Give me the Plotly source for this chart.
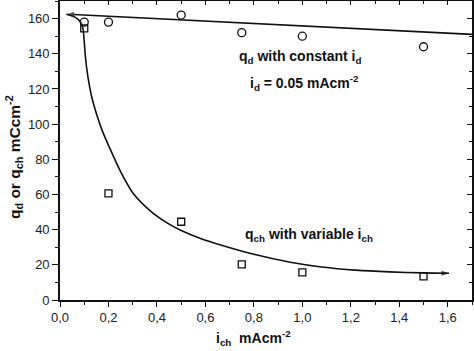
import plotly.graph_objects as go

# measured data
i_ch = [0.1, 0.2, 0.5, 0.75, 1.0, 1.5]
q_d = [158, 158, 162, 152, 150, 144]
q_ch = [154.4, 60.6, 44.5, 20.3, 15.7, 13.4]

# fitted lines
qd_fit_x = [1.7, 0.026]
qd_fit_y = [151.0, 162.5]
qch_fit_x = [0.026, 0.06, 0.085, 0.095, 0.100, 0.105, 0.115, 0.13, 0.15, 0.175,
             0.2, 0.25, 0.3, 0.37, 0.44, 0.5, 0.58, 0.67, 0.8, 0.95, 1.08,
             1.22, 1.36, 1.5, 1.605]
qch_fit_y = [162.5, 161, 158, 154, 147, 138, 127, 116, 106, 96,
             88, 73, 61, 51, 44, 39.5, 35, 31, 26, 21.5, 18.8,
             17, 16, 15.4, 15.2]

x_ticks = [0, 0.2, 0.4, 0.6, 0.8, 1.0, 1.2, 1.4, 1.6]
y_ticks = [0, 20, 40, 60, 80, 100, 120, 140, 160]

FONT = "Liberation Sans, Arial, sans-serif"
BLACK = "#111111"

fig = go.Figure()

fig.add_trace(go.Scatter(
    x=qd_fit_x, y=qd_fit_y, mode="lines+markers",
    line=dict(color=BLACK, width=1.6),
    marker=dict(symbol=["circle", "arrow"], size=[0, 8], color=BLACK,
                angleref="previous", line=dict(width=0)),
    showlegend=False, hoverinfo="skip"))

n = len(qch_fit_x)
fig.add_trace(go.Scatter(
    x=qch_fit_x, y=qch_fit_y, mode="lines+markers",
    line=dict(color=BLACK, width=1.6, shape="spline", smoothing=0.8),
    marker=dict(symbol=["circle"] * (n - 1) + ["arrow"], size=[0] * (n - 1) + [8],
                color=BLACK, angleref="previous", line=dict(width=0)),
    showlegend=False, hoverinfo="skip"))

fig.add_trace(go.Scatter(
    x=i_ch, y=q_d, mode="markers",
    marker=dict(symbol="circle-open", size=8, color=BLACK, line=dict(width=1.3)),
    showlegend=False))

fig.add_trace(go.Scatter(
    x=i_ch, y=q_ch, mode="markers",
    marker=dict(symbol="square-open", size=7, color=BLACK, line=dict(width=1.3)),
    showlegend=False))

# dummy trace for mirrored (top/right) axes
fig.add_trace(go.Scatter(x=[], y=[], xaxis="x2", yaxis="y2", showlegend=False))

axis_common = dict(showgrid=False, zeroline=False, showline=True,
                   linecolor=BLACK, linewidth=1.6)

fig.update_layout(
    width=474, height=351,
    margin=dict(l=60, r=2, t=1, b=51),
    paper_bgcolor="white", plot_bgcolor="white",
    separators=",.",
    font=dict(family=FONT, color=BLACK, size=13),
    xaxis=dict(range=[0, 1.7], tickvals=x_ticks, tickformat=".1f",
               ticks="outside", ticklen=5, tickwidth=1.3, tickcolor=BLACK,
               minor=dict(dtick=0.1, tick0=0, ticks="outside", ticklen=3,
                          tickwidth=1.2, tickcolor=BLACK),
               tickfont=dict(size=13, color="#222222"),
               **axis_common),
    yaxis=dict(range=[0, 170], tickvals=y_ticks,
               ticks="outside", ticklen=6, tickwidth=1.3, tickcolor=BLACK,
               minor=dict(dtick=10, tick0=0, ticks="outside", ticklen=3,
                          tickwidth=1.2, tickcolor=BLACK),
               tickfont=dict(size=13, color="#222222"),
               **axis_common),
    xaxis2=dict(overlaying="x", side="top", range=[0, 1.7], tickvals=x_ticks,
                showticklabels=False, ticks="inside", ticklen=4, tickwidth=1.3,
                tickcolor=BLACK,
                minor=dict(dtick=0.1, tick0=0, ticks="inside", ticklen=3,
                           tickwidth=1.2, tickcolor=BLACK),
                **axis_common),
    yaxis2=dict(overlaying="y", side="right", range=[0, 170], tickvals=y_ticks,
                showticklabels=False, ticks="inside", ticklen=5, tickwidth=1.3,
                tickcolor=BLACK,
                minor=dict(dtick=10, tick0=0, ticks="inside", ticklen=3,
                           tickwidth=1.2, tickcolor=BLACK),
                **axis_common),
)

bold = dict(family=FONT, size=14, color=BLACK)
fig.add_annotation(x=0.99, y=138, xref="x", yref="y", showarrow=False,
                   text="<b>q<sub>d</sub> with constant i<sub>d</sub></b>", font=bold)
fig.add_annotation(x=1.007, y=123.5, xref="x", yref="y", showarrow=False,
                   text="<b>i<sub>d</sub> = 0.05 mAcm<sup>-2</sup></b>", font=bold)
fig.add_annotation(x=1.026, y=37, xref="x", yref="y", showarrow=False,
                   text="<b>q<sub>ch</sub> with variable i<sub>ch</sub></b>", font=bold)

# axis titles as annotations
fig.add_annotation(x=(253 - 60) / 412, y=-(338 - 300) / 299, xref="paper", yref="paper",
                   showarrow=False, yanchor="middle", xanchor="center",
                   text="<b>i<sub>ch</sub>  mAcm<sup>-2</sup></b>", font=bold)
fig.add_annotation(x=-(60 - 14) / 412, y=(300 - 157) / 299, xref="paper", yref="paper",
                   showarrow=False, textangle=-90, xanchor="center", yanchor="middle",
                   text="<b>q<sub>d</sub> or q<sub>ch</sub> mCcm<sup>-2</sup></b>",
                   font=dict(family=FONT, size=15.5, color=BLACK))

fig.write_html("out.html")
